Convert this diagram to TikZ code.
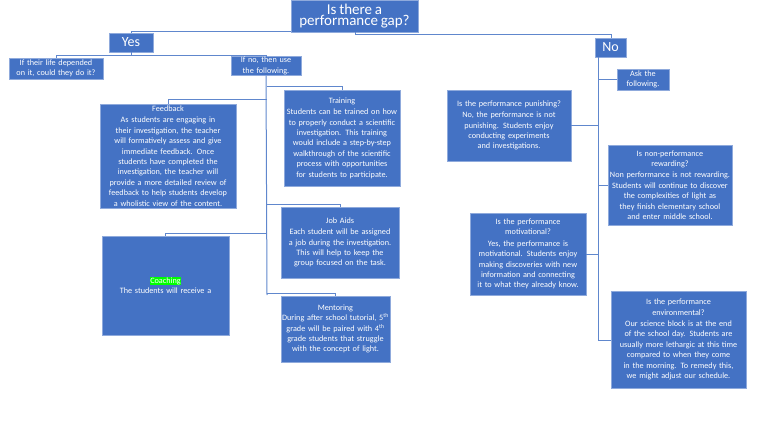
\documentclass[tikz,border=0pt]{standalone}
\usepackage{fontspec}
\setmainfont{Carlito}
\definecolor{bx}{HTML}{4472C4}
\definecolor{bd}{HTML}{8FAADC}
\newcommand{\nohyph}{\hyphenpenalty=10000\relax\exhyphenpenalty=10000\relax}
\begin{document}
\begin{tikzpicture}[x=1pt,y=-1pt,
  bxs/.style={fill=bx,draw=bd,line width=0.6pt,text=white,inner sep=0.5pt,align=center,font=\fontsize{8.2}{10.4}\selectfont\nohyph},
  ln/.style={draw=bx!85!white,line width=1pt}]
\useasboundingbox (0,0) rectangle (768,433);
\newcommand{\bxat}[6]{\node[bxs,minimum width=#4,minimum height=#5,text width=#4-2] (#1) at ({#2+#4/2},{#3+#5/2}) {#6};}
\bxat{title}{291}{0}{127}{32}{\fontsize{15}{16}\selectfont Is there a\\performance gap?}
\bxat{yes}{109}{33}{44}{19}{\fontsize{14}{14}\selectfont Yes}
\bxat{no}{595}{38}{31}{19}{\fontsize{14}{14}\selectfont No}
\bxat{life}{9}{58}{94}{21}{If their life depended\\on it, could they do it?}
\bxat{ifno}{231}{57}{70}{18}{If no, then use\\the following.}
\bxat{fb}{100}{104}{136}{104}{Feedback\\[1pt]As students are engaging in their investigation, the teacher will formatively assess and give immediate feedback. Once students have completed the investigation, the teacher will provide a more detailed review of feedback to help students develop a wholistic view of the content.}
\bxat{tr}{284}{90}{116}{96}{Training\\[1pt]Students can be trained on how to properly conduct a scientific investigation. This training would include a step-by-step walkthrough of the scientific process with opportunities for students to participate.}
\bxat{ja}{281}{207}{118}{71}{Job Aids\\[1pt]Each student will be assigned a job during the investigation. This will help to keep the group focused on the task.}
\bxat{co}{102}{236}{127}{99}{{\fboxsep=0.5pt\colorbox{green}{Coaching}}\\The students will receive a}
\bxat{me}{281}{296}{109}{66}{Mentoring\\During after school tutorial, 5\textsuperscript{th} grade will be paired with 4\textsuperscript{th} grade students that struggle with the concept of light.}
\bxat{ask}{617}{69}{52}{21}{Ask the\\following.}
\bxat{pu}{447}{90}{124}{71}{Is the performance punishing?\\[1pt]No, the performance is not punishing. Students enjoy conducting experiments and investigations.}
\bxat{rw}{608}{145}{124}{80}{Is  non-performance\\rewarding?\\[1pt]Non performance is not rewarding. Students will continue to discover the complexities of light as they finish elementary school and enter middle school.}
\bxat{mo}{470}{213}{116}{82}{Is the performance\\motivational?\\[1pt]Yes, the performance is motivational. Students enjoy making discoveries with new information and connecting it to what they already know.}
\bxat{en}{611}{291}{135}{97}{Is the performance\\environmental?\\[1pt]Our science block is at the end of the school day. Students are usually more lethargic at this time compared to when they come in the morning. To remedy this, we might adjust our schedule.}
% connectors
\draw[ln] (title.south west) ++(0,-1) -| (yes.north);
\draw[ln] (355,32) |- (611,35) |- (no.north);
\draw[ln] (yes.south) -- (131,56) -| (life.north);
\draw[ln] (131,56) -| (ifno.north);
\draw[ln] (ifno.south) -- (267,295);
\draw[ln] (267,87) -| (tr.north);
\draw[ln] (267,100) -| (fb.north);
\draw[ln] (267,204) -| (ja.north);
\draw[ln] (267,233) -| (co.north);
\draw[ln] (267,293) -| (me.north);
\draw[ln] (598,57) -- (598,340);
\draw[ln] (598,80) -- (ask.west |- 0,80);
\draw[ln] (598,126) -- (pu.east |- 0,126);
\draw[ln] (598,185) -- (rw.west |- 0,185);
\draw[ln] (598,254) -- (mo.east |- 0,254);
\draw[ln] (598,340) -- (en.west |- 0,340);
\end{tikzpicture}
\end{document}
